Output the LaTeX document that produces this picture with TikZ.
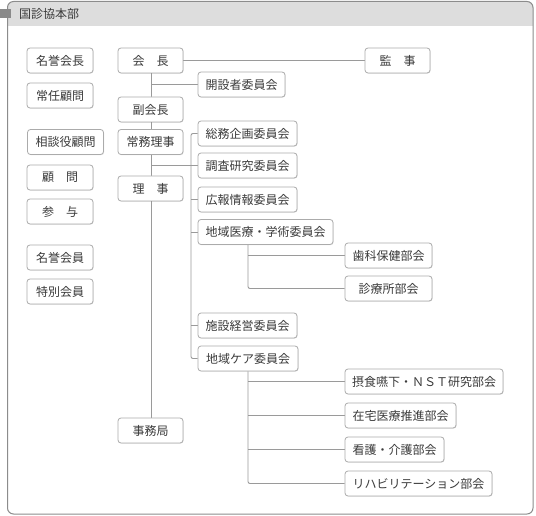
\documentclass[tikz,border=0pt]{standalone}
\usepackage{fontspec}
\newfontfamily\jp{Noto Sans CJK JP}
\usetikzlibrary{backgrounds,shadows}
\definecolor{txt}{HTML}{3A3A3A}
\definecolor{boxline}{HTML}{ABABAB}
\definecolor{conn}{HTML}{9A9A9A}
\definecolor{framecol}{HTML}{8C8C8C}
\definecolor{headfill}{HTML}{DDDDDD}
\definecolor{marker}{HTML}{8A8A8A}
\tikzset{
  orgbox/.style={draw=boxline, fill=white, rounded corners=3pt, line width=0.8pt,
    minimum height=25pt, inner sep=0pt, text=txt,
    font=\jp\fontsize{12}{14}\selectfont,
    drop shadow={shadow xshift=0.6pt, shadow yshift=-0.6pt, fill=black, opacity=0.12}},
  link/.style={draw=conn, line width=0.9pt},
}
\begin{document}
\begin{tikzpicture}[x=1pt, y=-1pt]
\useasboundingbox (0,0) rectangle (536,516);
% frame and header
\begin{scope}[on background layer]
\fill[white] (0,0) rectangle (536,516);
\fill[headfill, rounded corners=6pt] (7.5,1.5) rectangle (533,26);
\fill[headfill] (7.5,14) rectangle (533,26);
\draw[framecol, line width=1pt, rounded corners=6pt] (7.5,1.5) rectangle (533,514);
\fill[marker] (0,9.5) rectangle (11,18.5);
\end{scope}
\node[anchor=west, inner sep=0pt, text=txt, font=\jp\fontsize{12}{14}\selectfont] (title) at (19,14) {国診協本部};

% left column
\node[orgbox, minimum width=66pt] (meiyokaicho) at (60,60.5) {名誉会長};
\node[orgbox, minimum width=66pt] (jonin) at (60,95.5) {常任顧問};
\node[orgbox, minimum width=76pt] (sodanyaku) at (65.5,142) {相談役顧問};
\node[orgbox, minimum width=66pt] (komon) at (60,177.5) {顧　問};
\node[orgbox, minimum width=66pt] (sanyo) at (60,211.5) {参　与};
\node[orgbox, minimum width=66pt] (meiyokaiin) at (60,257.5) {名誉会員};
\node[orgbox, minimum width=66pt] (tokubetsu) at (60,291.5) {特別会員};

% main column
\node[orgbox, minimum width=65pt] (kaicho) at (150.5,60.5) {会　長};
\node[orgbox, minimum width=65pt] (kanji) at (397.5,60.5) {監　事};
\node[orgbox, minimum width=87pt] (kaisetsu) at (241.5,84.5) {開設者委員会};
\node[orgbox, minimum width=65pt] (fukukaicho) at (150.5,109.5) {副会長};
\node[orgbox, minimum width=65pt] (jomu) at (150.5,142) {常務理事};
\node[orgbox, minimum width=65pt] (riji) at (150.5,188.5) {理　事};
\node[orgbox, minimum width=65pt] (jimukyoku) at (150.5,430.5) {事務局};

% committees
\node[orgbox, minimum width=99pt] (somu) at (247.5,133.5) {総務企画委員会};
\node[orgbox, minimum width=99pt] (chosa) at (247.5,165.5) {調査研究委員会};
\node[orgbox, minimum width=99pt] (koho) at (247.5,199.5) {広報情報委員会};
\node[orgbox, minimum width=135pt] (iryo) at (265.5,232) {地域医療・学術委員会};
\node[orgbox, minimum width=87pt] (shika) at (388.5,255.5) {歯科保健部会};
\node[orgbox, minimum width=87pt] (shinryo) at (388.5,288.5) {診療所部会};
\node[orgbox, minimum width=99pt] (shisetsu) at (247.5,325.5) {施設経営委員会};
\node[orgbox, minimum width=100pt] (care) at (248,358.5) {地域ケア委員会};
\node[orgbox, minimum width=158pt] (sesshoku) at (424,381.5) {摂食嚥下・ＮＳＴ研究部会};
\node[orgbox, minimum width=111pt] (zaitaku) at (400.5,415.5) {在宅医療推進部会};
\node[orgbox, minimum width=99pt] (kango) at (394.5,449.5) {看護・介護部会};
\node[orgbox, minimum width=147pt] (riha) at (418.5,483.5) {リハビリテーション部会};

\coordinate (spine) at (151.5,0);
\coordinate (vtwo) at (191,0);
\coordinate (vthree) at (248,0);

\begin{scope}[on background layer]
\draw[link] (kaicho.east) -- (kanji.west);
\draw[link] (kaicho.south -| spine) -- (jimukyoku.north -| spine);
\draw[link] (kaisetsu.west) -- (kaisetsu.west -| spine);
\draw[link] (chosa.west) -- (chosa.west -| spine);
\draw[link, rounded corners=2pt] (somu.west) -- (somu.west -| vtwo) -- (care.west -| vtwo) -- (care.west);
\draw[link] (koho.west) -- (koho.west -| vtwo);
\draw[link] (iryo.west) -- (iryo.west -| vtwo);
\draw[link] (shisetsu.west) -- (shisetsu.west -| vtwo);
\draw[link, rounded corners=2pt] (iryo.south -| vthree) -- (shinryo.west -| vthree) -- (shinryo.west);
\draw[link] (shika.west) -- (shika.west -| vthree);
\draw[link, rounded corners=2pt] (care.south -| vthree) -- (riha.west -| vthree) -- (riha.west);
\draw[link] (sesshoku.west) -- (sesshoku.west -| vthree);
\draw[link] (zaitaku.west) -- (zaitaku.west -| vthree);
\draw[link] (kango.west) -- (kango.west -| vthree);
\end{scope}
\end{tikzpicture}
\end{document}
